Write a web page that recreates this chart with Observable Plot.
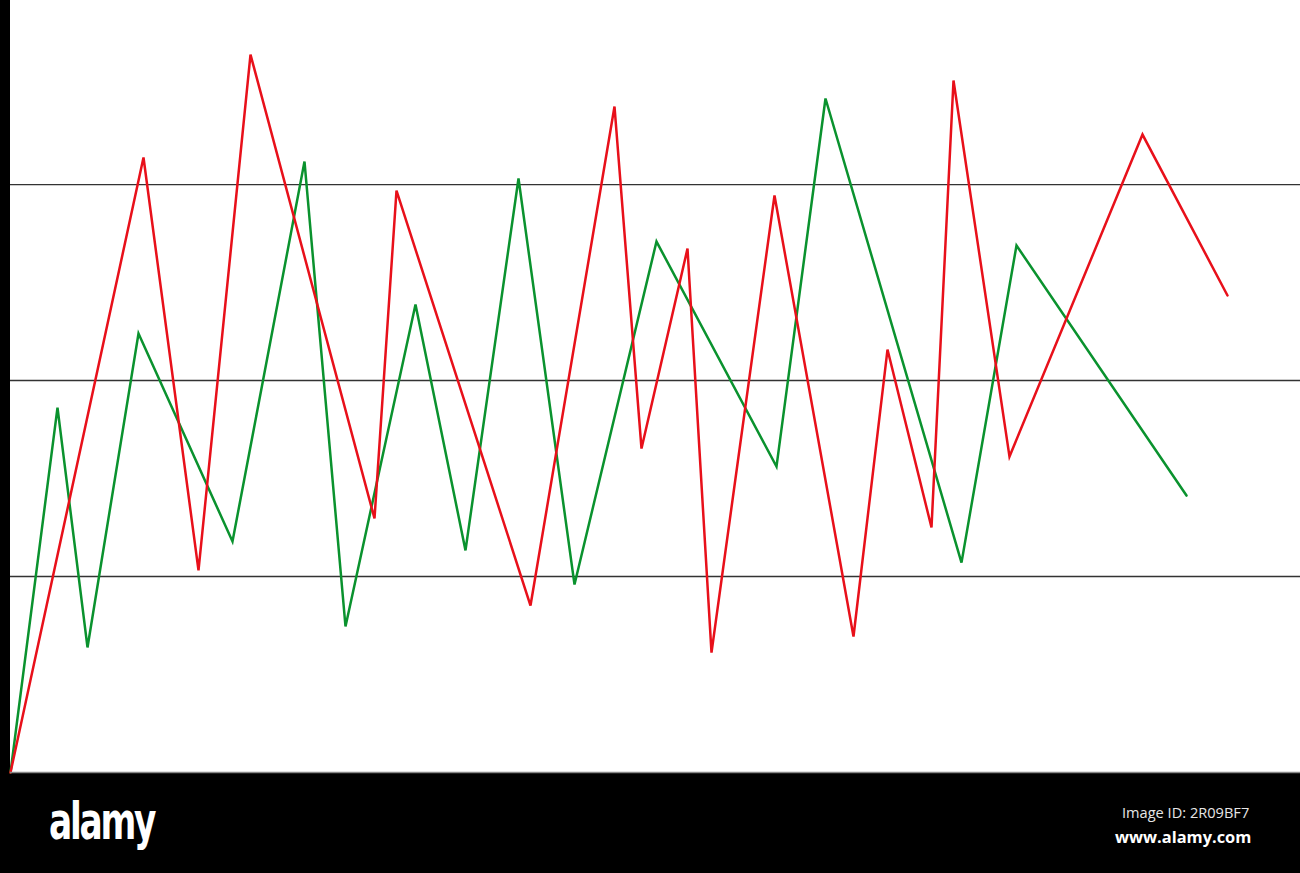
<!DOCTYPE html>
<html>
<head>
<meta charset="utf-8">
<script src="https://cdn.jsdelivr.net/npm/d3@7"></script>
<script src="https://cdn.jsdelivr.net/npm/@observablehq/plot@0.6"></script>
<style>
  html, body { margin: 0; padding: 0; background: #000; }
  #wrap { position: relative; width: 1300px; height: 873px; background: #000; overflow: hidden; }
  #chart { position: absolute; left: 10px; top: 0; width: 1290px; height: 772px; background: #fff; }
  #chart svg { display: block; }
  .logo { position: absolute; left: 49px; top: 796px; color: #fff; font-family: "DejaVu Sans Condensed", "DejaVu Sans", sans-serif; font-weight: bold; font-size: 51px; letter-spacing: -3px; line-height: 1; transform: scaleX(0.75); transform-origin: left top; }
  .imgid { position: absolute; left: 1122px; top: 805px; color: #e6e6e6; font-family: "Open Sans", "DejaVu Sans", sans-serif; font-size: 14.6px; line-height: 1; }
  .url { position: absolute; left: 1115px; top: 829px; color: #fff; font-family: "Open Sans", "DejaVu Sans", sans-serif; font-weight: bold; font-size: 16.4px; line-height: 1; }
</style>
</head>
<body>
<div id="wrap">
  <div id="chart"></div>
  <div class="logo">alamy</div>
  <div class="imgid">Image ID: 2R09BF7</div>
  <div class="url">www.alamy.com</div>
</div>
<script>
// Red series (x position units, value)
const redX = [0, 13.3, 18.8, 24.0, 36.4, 38.6, 52.0, 60.4, 63.1, 67.7, 70.1, 76.4, 84.3, 87.7, 92.1, 94.3, 99.9, 113.2, 121.7];
const redY = [0, 3.138, 1.031, 3.663, 1.296, 2.969, 0.852, 3.398, 1.653, 2.673, 0.612, 2.944, 0.694, 2.158, 1.25, 3.531, 1.612, 3.255, 2.434];
// Green series
const greenX = [0, 4.7, 7.7, 12.8, 22.2, 29.4, 33.5, 40.5, 45.5, 50.8, 56.4, 64.6, 76.6, 81.5, 95.1, 100.6, 117.6];
const greenY = [0, 1.862, 0.638, 2.240, 1.179, 3.117, 0.745, 2.388, 1.133, 3.031, 0.959, 2.709, 1.561, 3.439, 1.071, 2.689, 1.413];
// Gridline values
const gridValues = [1, 2, 3];

const red = redX.map((x, i) => ({x, y: redY[i]}));
const green = greenX.map((x, i) => ({x, y: greenY[i]}));

const chart = Plot.plot({
  width: 1290,
  height: 772,
  margin: 0,
  x: {domain: [0, 129], axis: null},
  y: {domain: [0, 3.939], axis: null},
  style: {background: "#fff", overflow: "visible"},
  marks: [
    Plot.ruleY(gridValues, {stroke: "#333", strokeWidth: 1.3, strokeOpacity: 1}),
    Plot.line(green, {x: "x", y: "y", stroke: "#0a922e", strokeWidth: 2.5, strokeLinejoin: "miter", strokeMiterlimit: 4}),
    Plot.line(red, {x: "x", y: "y", stroke: "#e8101a", strokeWidth: 2.5, strokeLinejoin: "miter", strokeMiterlimit: 4}),
    Plot.ruleY([0], {stroke: "#888", strokeWidth: 1.5})
  ]
});
document.getElementById("chart").appendChild(chart);
</script>
</body>
</html>
